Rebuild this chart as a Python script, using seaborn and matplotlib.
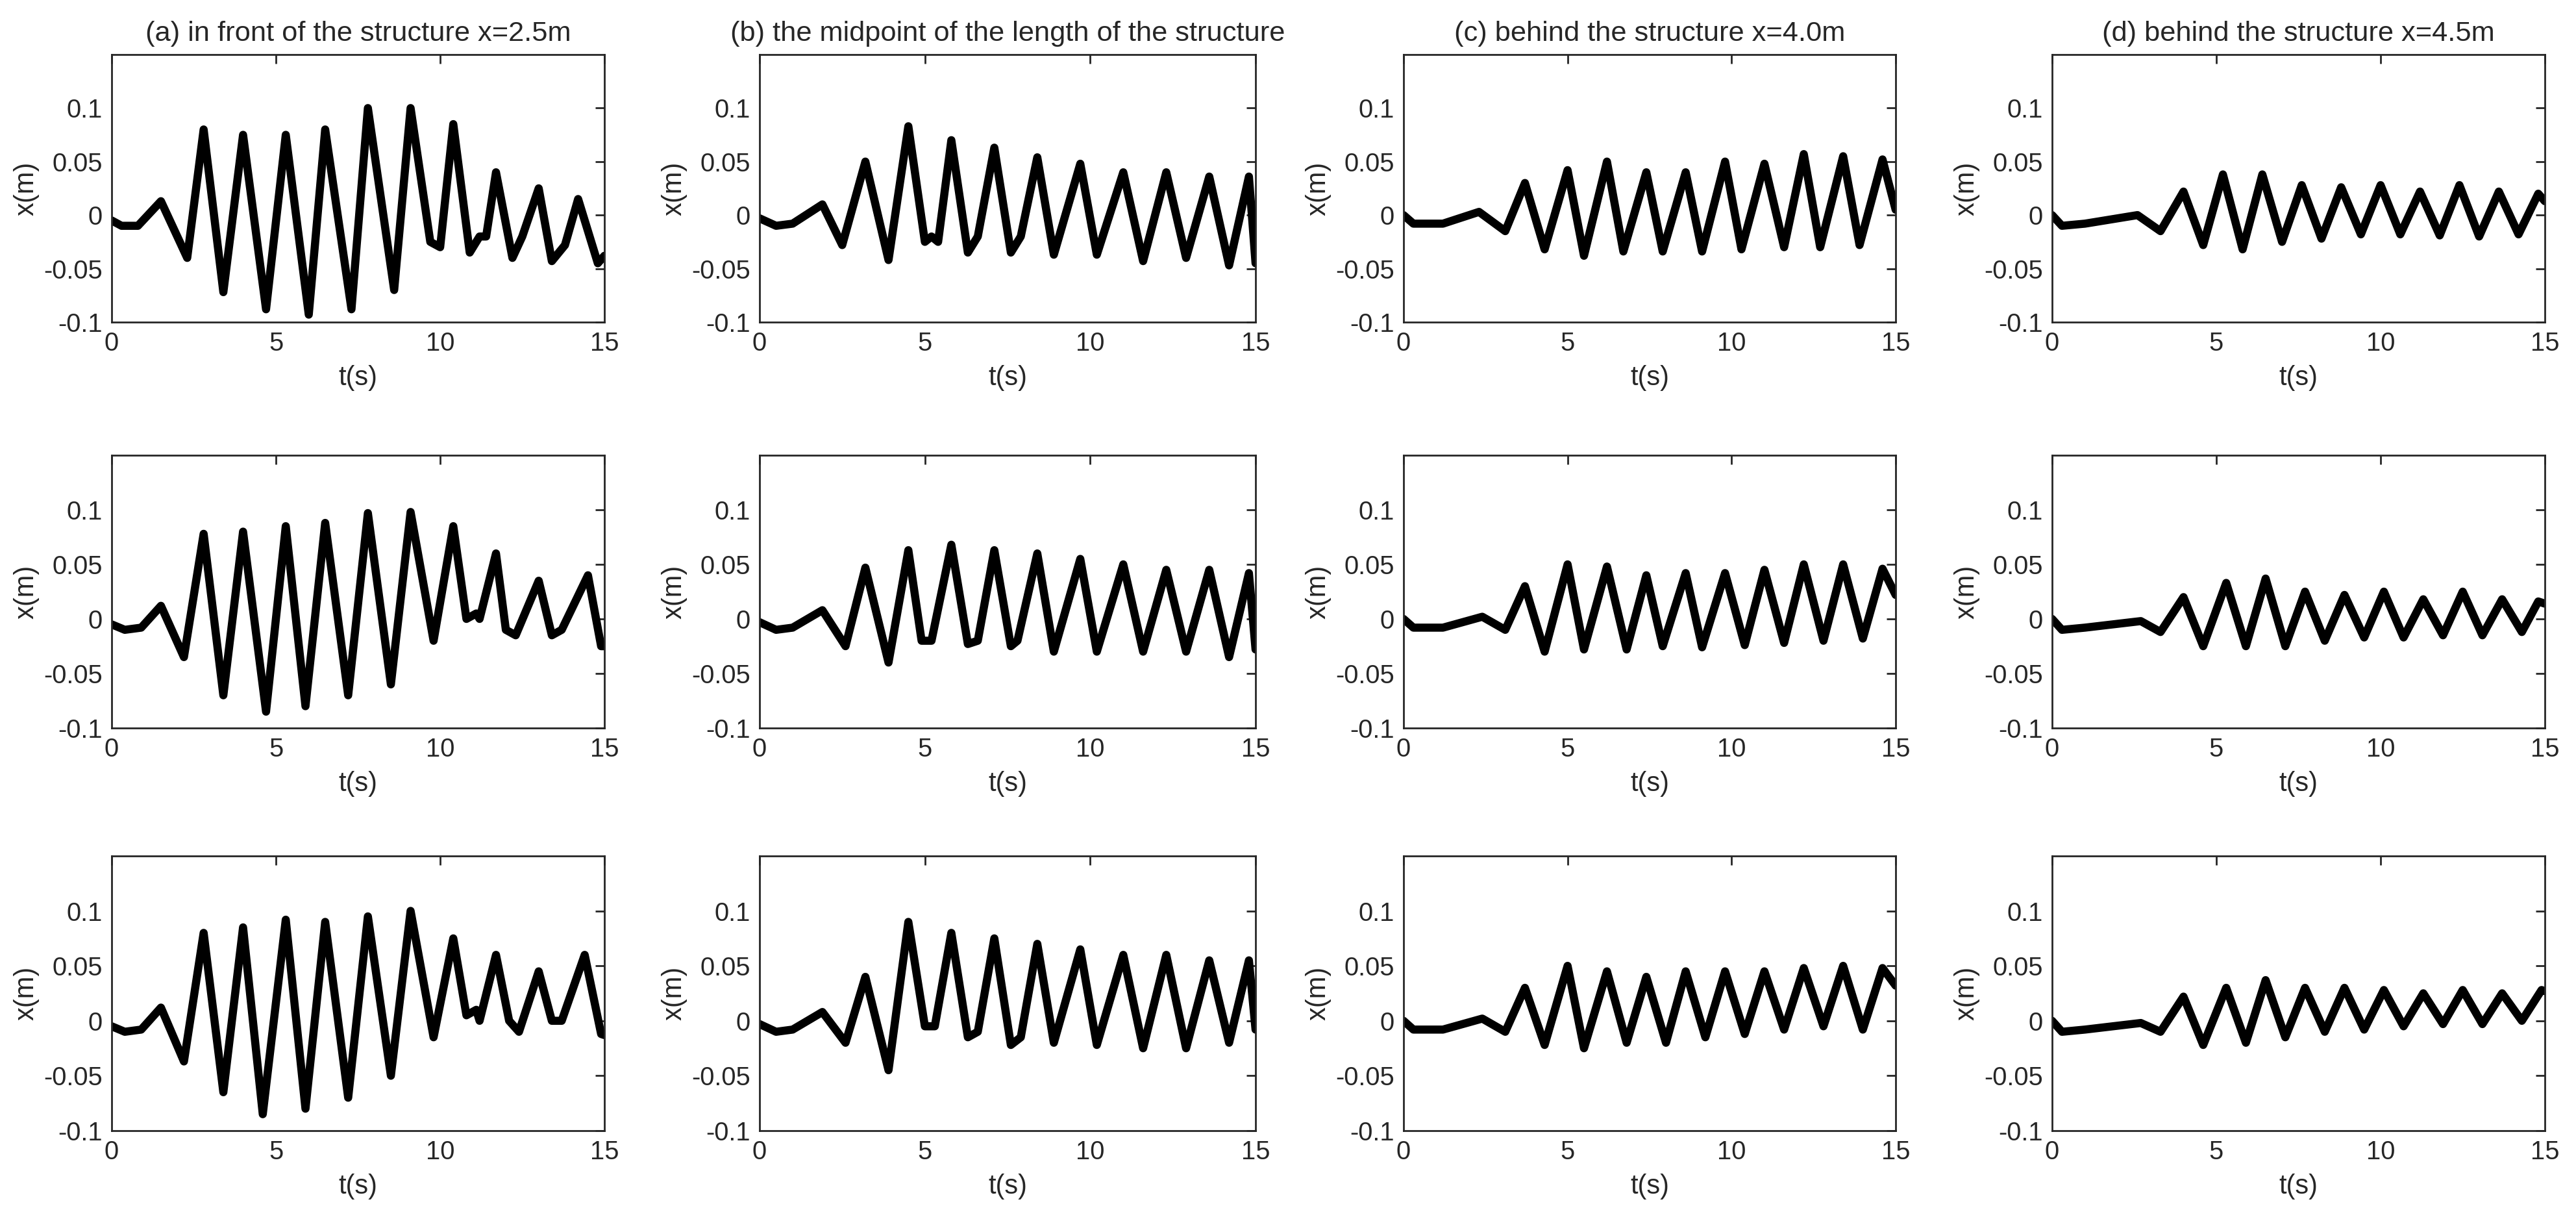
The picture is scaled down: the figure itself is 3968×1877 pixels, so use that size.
import matplotlib
matplotlib.use("Agg")
import matplotlib.pyplot as plt
import seaborn as sns
import pandas as pd

sns.set_theme(style="white")
plt.rcParams['font.family'] = ['Liberation Sans', 'DejaVu Sans']

titles = ["(a) in front of the structure x=2.5m",
          "(b) the midpoint of the length of the structure",
          "(c) behind the structure x=4.0m",
          "(d) behind the structure x=4.5m"]

# row 1
a1 = [(0,-0.005),(0.3,-0.01),(0.8,-0.01),(1.5,0.013),(2.3,-0.04),(2.8,0.08),(3.4,-0.072),(4.0,0.075),(4.7,-0.088),(5.3,0.075),(6.0,-0.093),(6.5,0.08),(7.3,-0.088),(7.8,0.1),(8.6,-0.07),(9.1,0.1),(9.7,-0.025),(10.0,-0.03),(10.4,0.085),(10.9,-0.035),(11.2,-0.02),(11.4,-0.02),(11.7,0.04),(12.2,-0.04),(12.5,-0.02),(13.0,0.025),(13.4,-0.043),(13.8,-0.028),(14.2,0.015),(14.8,-0.045),(15,-0.038)]
b1 = [(0,-0.003),(0.5,-0.01),(1.0,-0.008),(1.9,0.01),(2.5,-0.028),(3.2,0.05),(3.9,-0.042),(4.5,0.083),(5.0,-0.025),(5.2,-0.02),(5.4,-0.025),(5.8,0.07),(6.3,-0.035),(6.6,-0.02),(7.1,0.063),(7.6,-0.035),(7.9,-0.02),(8.4,0.054),(8.9,-0.037),(9.7,0.048),(10.2,-0.037),(11.0,0.04),(11.6,-0.043),(12.3,0.04),(12.9,-0.04),(13.6,0.036),(14.2,-0.047),(14.8,0.036),(15,-0.045)]
c1 = [(0,0),(0.3,-0.008),(1.2,-0.008),(2.3,0.003),(3.1,-0.015),(3.7,0.03),(4.3,-0.032),(5.0,0.042),(5.5,-0.038),(6.2,0.05),(6.7,-0.034),(7.4,0.04),(7.9,-0.034),(8.6,0.04),(9.1,-0.034),(9.8,0.05),(10.3,-0.032),(11.0,0.048),(11.6,-0.03),(12.2,0.057),(12.7,-0.03),(13.4,0.055),(13.9,-0.028),(14.6,0.052),(15,0.005)]
d1 = [(0,0),(0.3,-0.01),(1,-0.008),(2.6,0.0),(3.3,-0.015),(4.0,0.022),(4.6,-0.028),(5.2,0.038),(5.8,-0.032),(6.4,0.038),(7.0,-0.025),(7.6,0.028),(8.2,-0.022),(8.8,0.026),(9.4,-0.018),(10.0,0.028),(10.6,-0.018),(11.2,0.022),(11.8,-0.019),(12.4,0.028),(13.0,-0.02),(13.6,0.022),(14.2,-0.018),(14.8,0.02),(15,0.013)]
# row 2
a2 = [(0,-0.005),(0.4,-0.01),(0.9,-0.008),(1.5,0.012),(2.2,-0.035),(2.8,0.078),(3.4,-0.07),(4.0,0.08),(4.7,-0.085),(5.3,0.085),(5.9,-0.08),(6.5,0.088),(7.2,-0.07),(7.8,0.097),(8.5,-0.06),(9.1,0.098),(9.8,-0.02),(10.4,0.085),(10.8,0.0),(11.1,0.005),(11.2,0.0),(11.7,0.06),(12.0,-0.01),(12.3,-0.015),(13.0,0.035),(13.4,-0.015),(13.7,-0.01),(14.5,0.04),(14.9,-0.025),(15,-0.025)]
b2 = [(0,-0.003),(0.5,-0.01),(1,-0.008),(1.9,0.008),(2.6,-0.025),(3.2,0.047),(3.9,-0.04),(4.5,0.063),(4.9,-0.02),(5.2,-0.02),(5.8,0.068),(6.3,-0.023),(6.6,-0.02),(7.1,0.063),(7.6,-0.025),(7.8,-0.02),(8.4,0.06),(8.9,-0.03),(9.7,0.055),(10.2,-0.03),(11.0,0.05),(11.6,-0.03),(12.3,0.045),(12.9,-0.03),(13.6,0.045),(14.2,-0.035),(14.8,0.042),(15,-0.028)]
c2 = [(0,0),(0.3,-0.008),(1.2,-0.008),(2.4,0.002),(3.1,-0.01),(3.7,0.03),(4.3,-0.03),(5.0,0.05),(5.5,-0.028),(6.2,0.048),(6.8,-0.028),(7.4,0.04),(7.9,-0.025),(8.6,0.042),(9.1,-0.026),(9.8,0.042),(10.4,-0.024),(11.0,0.045),(11.6,-0.022),(12.2,0.05),(12.8,-0.02),(13.4,0.05),(14.0,-0.018),(14.6,0.046),(15,0.022)]
d2 = [(0,0),(0.3,-0.01),(1,-0.008),(2.7,-0.002),(3.3,-0.012),(4.0,0.02),(4.6,-0.025),(5.3,0.033),(5.9,-0.025),(6.5,0.037),(7.1,-0.025),(7.7,0.025),(8.3,-0.02),(8.9,0.022),(9.5,-0.017),(10.1,0.025),(10.7,-0.017),(11.3,0.018),(11.9,-0.015),(12.5,0.025),(13.1,-0.015),(13.7,0.018),(14.3,-0.012),(14.8,0.016),(15,0.014)]
# row 3
a3 = [(0,-0.005),(0.4,-0.01),(0.9,-0.008),(1.5,0.012),(2.2,-0.037),(2.8,0.08),(3.4,-0.065),(4.0,0.085),(4.6,-0.085),(5.3,0.092),(5.9,-0.08),(6.5,0.09),(7.2,-0.07),(7.8,0.095),(8.5,-0.05),(9.1,0.1),(9.8,-0.015),(10.4,0.075),(10.8,0.005),(11.1,0.01),(11.2,0.0),(11.7,0.06),(12.1,0.0),(12.4,-0.01),(13.0,0.045),(13.4,0.0),(13.7,0.0),(14.4,0.06),(14.9,-0.012),(15,-0.013)]
b3 = [(0,-0.003),(0.5,-0.01),(1,-0.008),(1.9,0.008),(2.6,-0.02),(3.2,0.04),(3.9,-0.045),(4.5,0.09),(5.0,-0.005),(5.3,-0.005),(5.8,0.08),(6.3,-0.015),(6.6,-0.01),(7.1,0.075),(7.6,-0.022),(7.9,-0.015),(8.4,0.07),(8.9,-0.02),(9.7,0.065),(10.2,-0.022),(11.0,0.06),(11.6,-0.025),(12.3,0.06),(12.9,-0.025),(13.6,0.055),(14.2,-0.02),(14.8,0.055),(15,-0.008)]
c3 = [(0,0),(0.3,-0.008),(1.2,-0.008),(2.4,0.002),(3.1,-0.01),(3.7,0.03),(4.3,-0.022),(5.0,0.05),(5.5,-0.025),(6.2,0.045),(6.8,-0.02),(7.4,0.04),(8.0,-0.02),(8.6,0.045),(9.2,-0.015),(9.8,0.045),(10.4,-0.012),(11.0,0.045),(11.6,-0.008),(12.2,0.048),(12.8,-0.005),(13.4,0.05),(14.0,-0.008),(14.6,0.048),(15,0.032)]
d3 = [(0,0),(0.3,-0.01),(1,-0.008),(2.7,-0.002),(3.3,-0.01),(4.0,0.022),(4.6,-0.022),(5.3,0.03),(5.9,-0.02),(6.5,0.037),(7.1,-0.015),(7.7,0.03),(8.3,-0.01),(8.9,0.03),(9.5,-0.008),(10.1,0.028),(10.7,-0.005),(11.3,0.025),(11.9,-0.003),(12.5,0.028),(13.1,-0.003),(13.7,0.025),(14.3,0.0),(14.9,0.028),(15,0.027)]

rows = [[a1, b1, c1, d1], [a2, b2, c2, d2], [a3, b3, c3, d3]]
xticks = [0, 5, 10, 15]
yticks = [-0.1, -0.05, 0, 0.05, 0.1]
ytick_labels = ["-0.1", "-0.05", "0", "0.05", "0.1"]

W, H = 3968, 1877
fig = plt.figure(figsize=(W/250, H/250), dpi=250)
col_x = [(172, 931), (1170, 1934), (2162, 2920), (3161, 3920)]
row_y = [(84, 496), (701, 1121), (1318, 1741)]

for r, rowdata in enumerate(rows):
    for c, pts in enumerate(rowdata):
        x0, x1 = col_x[c]; y0, y1 = row_y[r]
        ax = fig.add_axes([x0/W, 1 - y1/H, (x1-x0)/W, (y1-y0)/H])
        df = pd.DataFrame(pts, columns=["t", "x"])
        sns.lineplot(data=df, x="t", y="x", ax=ax, color="black", lw=3.6,
                     sort=False, estimator=None)
        ax.set_xlim(0, 15); ax.set_ylim(-0.1, 0.15)
        ax.set_xticks(xticks); ax.set_xticklabels([str(v) for v in xticks])
        ax.set_yticks(yticks); ax.set_yticklabels(ytick_labels)
        ax.tick_params(direction="in", length=4, width=0.8, colors="#262626",
                       labelsize=11.5, top=True, right=True, pad=4)
        for s in ax.spines.values():
            s.set_color("#262626"); s.set_linewidth(0.8); s.set_visible(True)
        ax.set_xlabel("t(s)", fontsize=12, color="#262626", labelpad=4)
        ax.set_ylabel("x(m)", fontsize=12, color="#262626", labelpad=2)
        if r == 0:
            ax.set_title(titles[c], fontsize=12.5, color="#262626", pad=6)

fig.savefig("out.png", dpi=250, facecolor="white")
